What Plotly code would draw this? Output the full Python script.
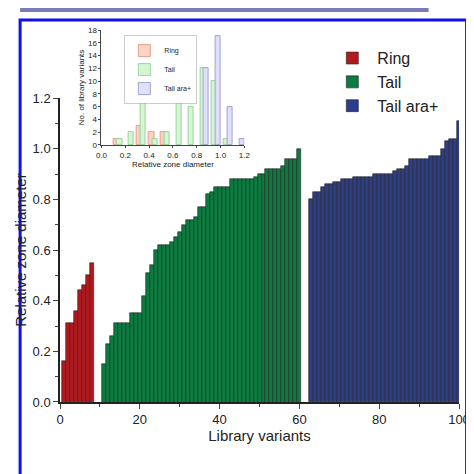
import plotly.graph_objects as go

ring_x = list(range(1, 9))
ring_y = [0.16, 0.31, 0.31, 0.36, 0.44, 0.46, 0.50, 0.55]
tail_x = list(range(11, 61))
tail_y = [0.15, 0.23, 0.26, 0.31, 0.31, 0.31, 0.31, 0.35, 0.35, 0.35,
          0.42, 0.51, 0.54, 0.60, 0.62, 0.62, 0.62, 0.63, 0.65, 0.67,
          0.70, 0.72, 0.72, 0.73, 0.77, 0.77, 0.82, 0.83, 0.85, 0.85,
          0.85, 0.85, 0.88, 0.88, 0.88, 0.88, 0.88, 0.88, 0.89, 0.90,
          0.90, 0.92, 0.92, 0.92, 0.92, 0.93, 0.96, 0.96, 0.96, 1.00]
ara_x = list(range(63, 101))
ara_y = [0.80, 0.83, 0.83, 0.85, 0.86, 0.86, 0.87, 0.87, 0.88, 0.88,
         0.88, 0.89, 0.89, 0.89, 0.89, 0.89, 0.90, 0.90, 0.90, 0.90,
         0.90, 0.91, 0.92, 0.92, 0.93, 0.96, 0.96, 0.96, 0.96, 0.96,
         0.97, 0.97, 0.97, 1.00, 1.03, 1.04, 1.04, 1.11]

# inset histogram
h_ring_x = [0.12, 0.32, 0.42, 0.52]
h_ring_y = [1, 3, 2, 2]
h_tail_x = [0.15, 0.25, 0.35, 0.45, 0.55, 0.65, 0.75, 0.85, 0.95, 1.05]
h_tail_y = [1, 2, 7, 1, 2, 7, 6, 12, 10, 1]
h_ara_x = [0.88, 0.98, 1.08, 1.18]
h_ara_y = [12, 17, 6, 1]

L, R, T, B = 42, 12, 22, 80
W, H = 474 - L - R, 474 - T - B

fig = go.Figure()
line = dict(color="#222", width=0.6)
fig.add_bar(x=ring_x, y=ring_y, name="Ring", marker=dict(color="#b0191e", line=line), width=1)
fig.add_bar(x=tail_x, y=tail_y, name="Tail", marker=dict(color="#0d7a40", line=line), width=1)
fig.add_bar(x=ara_x, y=ara_y, name="Tail ara+", marker=dict(color="#2c3d8c", line=line), width=1)

fig.add_bar(x=h_ring_x, y=h_ring_y, name="Ring", xaxis="x2", yaxis="y2", legend="legend2", width=0.045,
            marker=dict(color="#f9d3c4", line=dict(color="#e0907a", width=0.8)))
fig.add_bar(x=h_tail_x, y=h_tail_y, name="Tail", xaxis="x2", yaxis="y2", legend="legend2", width=0.045,
            marker=dict(color="#d5f5d5", line=dict(color="#88cc88", width=0.8)))
fig.add_bar(x=h_ara_x, y=h_ara_y, name="Tail ara+", xaxis="x2", yaxis="y2", legend="legend2", width=0.045,
            marker=dict(color="#e0e0f8", line=dict(color="#9090c8", width=0.8)))

fig.update_layout(
    width=474, height=474, barmode="overlay", bargap=0,
    margin=dict(l=L, r=R, t=T, b=B),
    plot_bgcolor="white", paper_bgcolor="white",
    font=dict(family="Arial", size=13, color="#222"),
    xaxis=dict(range=[0, 100], tickvals=[0, 20, 40, 60, 80, 100], showline=True, linecolor="#222",
               linewidth=1.5, ticks="outside", showgrid=False, zeroline=False,
               minor=dict(ticks="outside", dtick=10, ticklen=3),
               title=dict(text="Library variants", font=dict(size=15), standoff=2)),
    yaxis=dict(range=[0, 1.2], domain=[0, 0.817], tickvals=[0, 0.2, 0.4, 0.6, 0.8, 1.0, 1.2],
               tickformat=".1f", showline=True, linecolor="#222", linewidth=1.5, ticks="outside",
               showgrid=False, zeroline=False, minor=dict(ticks="outside", dtick=0.1, ticklen=3),
               title=dict(text="Relative zone diameter", font=dict(size=15), standoff=2)),
    xaxis2=dict(domain=[0.104, 0.462], anchor="y2", range=[0, 1.2], dtick=0.2, tickformat=".1f",
                showline=True, linecolor="#444", ticks="outside", ticklen=2, showgrid=False,
                zeroline=False, tickfont=dict(size=8),
                title=dict(text="Relative zone diameter", font=dict(size=8), standoff=2)),
    yaxis2=dict(domain=[0.691, 1.0], anchor="x2", range=[0, 18], dtick=2, showline=True,
                linecolor="#444", ticks="outside", ticklen=2, showgrid=False, zeroline=False,
                tickfont=dict(size=8),
                title=dict(text="No. of library variants", font=dict(size=8), standoff=2)),
    legend=dict(x=0.67, y=0.97, xanchor="left", yanchor="top", font=dict(size=16),
                bgcolor="rgba(0,0,0,0)", itemwidth=40, tracegroupgap=2),
    legend2=dict(x=0.16, y=0.985, xanchor="left", yanchor="top", font=dict(size=7),
                 bgcolor="white", bordercolor="#999", borderwidth=0.5, itemwidth=30,
                 tracegroupgap=0),
    shapes=[
        dict(type="rect", xref="paper", yref="paper", x0=-L / W, x1=(474 - L - 4) / W,
             y0=-B / H, y1=(H + 10) / H, line=dict(color="#1010ee", width=3)),
        dict(type="rect", xref="paper", yref="paper", x0=-L / W, x1=(430 - L) / W,
             y0=(H + T - 4) / H, y1=(H + T) / H, line=dict(width=0), fillcolor="#7a7cb8"),
    ],
)

fig.write_html("out.html")
